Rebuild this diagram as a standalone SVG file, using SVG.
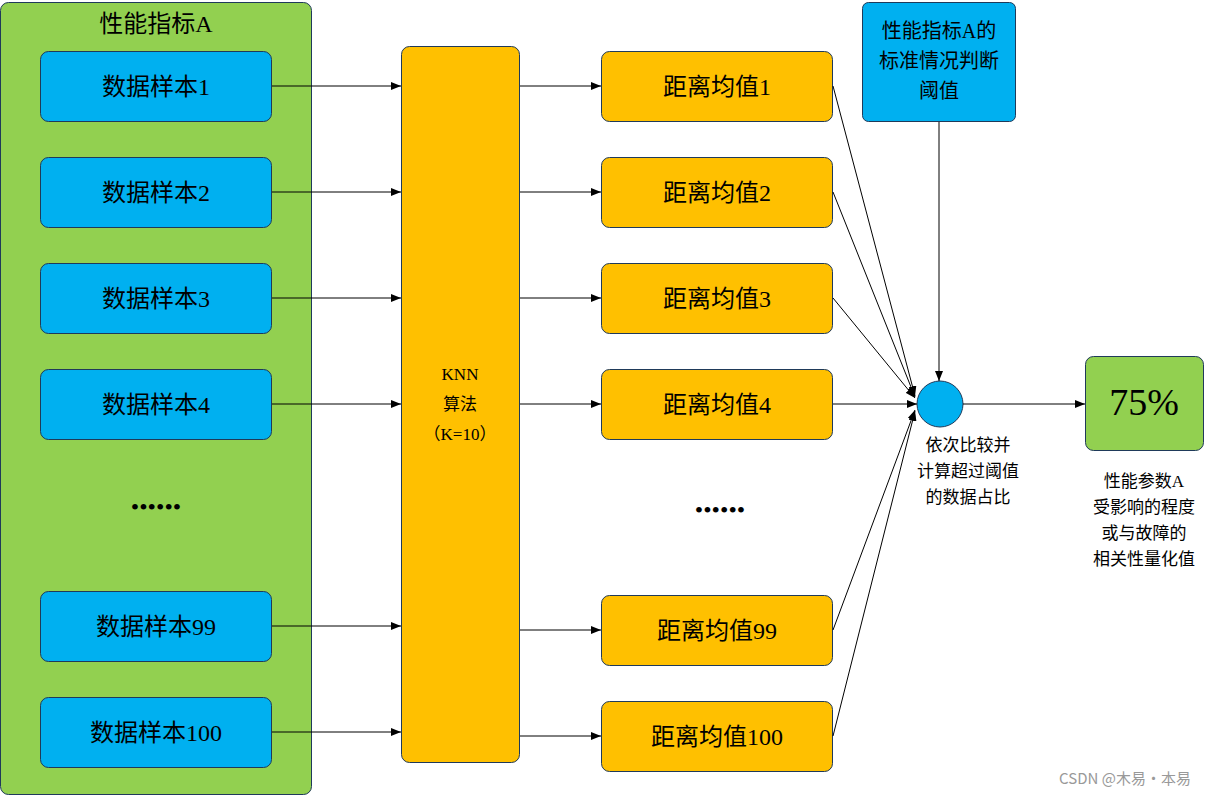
<svg xmlns="http://www.w3.org/2000/svg" width="1215" height="796" viewBox="0 0 1215 796">
<style>
text{font-family:"Liberation Serif","Noto Sans CJK SC",serif;fill:#000;text-anchor:middle}
.b{fill:#00b0f0;stroke:#1f3a5a;stroke-width:1}
.o{fill:#ffc000;stroke:#1f3a5a;stroke-width:1}
.g{fill:#92d050;stroke:#1f3a5a;stroke-width:1}
.t{font-size:24px}
.s{font-size:17px}
#c line{stroke:#000;stroke-width:1;marker-end:url(#a)}
</style>
<defs><marker id="a" markerWidth="10" markerHeight="8" refX="10" refY="4" orient="auto" markerUnits="userSpaceOnUse"><path d="M0,0L10,4L0,8z" fill="#000"/></marker></defs>
<rect width="1215" height="796" fill="#fff"/>
<g id="panel"><rect class="g" x="0.5" y="2.5" width="311" height="792" rx="8"/><text class="t" x="156" y="32">性能指标A</text></g>
<g id="s1"><rect class="b" x="40.5" y="51.5" width="231" height="70" rx="8"/><text class="t" x="156" y="95">数据样本1</text></g>
<g id="s2"><rect class="b" x="40.5" y="157.5" width="231" height="70" rx="8"/><text class="t" x="156" y="201">数据样本2</text></g>
<g id="s3"><rect class="b" x="40.5" y="263.5" width="231" height="70" rx="8"/><text class="t" x="156" y="307">数据样本3</text></g>
<g id="s4"><rect class="b" x="40.5" y="369.5" width="231" height="70" rx="8"/><text class="t" x="156" y="413">数据样本4</text></g>
<g id="sdots"><text class="t" x="156" y="515">••••••</text></g>
<g id="s99"><rect class="b" x="40.5" y="591.5" width="231" height="70" rx="8"/><text class="t" x="156" y="635">数据样本99</text></g>
<g id="s100"><rect class="b" x="40.5" y="697.5" width="231" height="70" rx="8"/><text class="t" x="156" y="741">数据样本100</text></g>
<g id="knn"><rect class="o" x="401.5" y="46.5" width="118" height="716" rx="8"/><text class="s" x="460" y="380">KNN</text><text class="s" x="460" y="410">算法</text><text class="s" x="460" y="440">（K=10）</text></g>
<g id="d1"><rect class="o" x="601.5" y="51.5" width="231" height="70" rx="8"/><text class="t" x="717" y="95">距离均值1</text></g>
<g id="d2"><rect class="o" x="601.5" y="157.5" width="231" height="70" rx="8"/><text class="t" x="717" y="201">距离均值2</text></g>
<g id="d3"><rect class="o" x="601.5" y="263.5" width="231" height="70" rx="8"/><text class="t" x="717" y="307">距离均值3</text></g>
<g id="d4"><rect class="o" x="601.5" y="369.5" width="231" height="70" rx="8"/><text class="t" x="717" y="413">距离均值4</text></g>
<g id="ddots"><text class="t" x="720" y="518">••••••</text></g>
<g id="d99"><rect class="o" x="601.5" y="595.5" width="231" height="70" rx="8"/><text class="t" x="717" y="639">距离均值99</text></g>
<g id="d100"><rect class="o" x="601.5" y="701.5" width="231" height="70" rx="8"/><text class="t" x="717" y="745">距离均值100</text></g>
<g id="th"><rect class="b" x="862.5" y="2.5" width="153" height="119" rx="6"/><text class="s" x="939" y="38" style="font-size:20px">性能指标A的</text><text class="s" x="939" y="68" style="font-size:20px">标准情况判断</text><text class="s" x="939" y="98" style="font-size:20px">阈值</text></g>
<g id="cmp"><circle class="b" cx="940" cy="404" r="23"/><text class="s" x="968" y="451">依次比较并</text><text class="s" x="968" y="477">计算超过阈值</text><text class="s" x="968" y="503">的数据占比</text></g>
<g id="res"><rect class="g" x="1085.5" y="356.5" width="118" height="94" rx="8"/><text x="1144" y="415" style="font-size:38px">75%</text><text class="s" x="1144" y="487">性能参数A</text><text class="s" x="1144" y="513">受影响的程度</text><text class="s" x="1144" y="539">或与故障的</text><text class="s" x="1144" y="565">相关性量化值</text></g>
<g id="c">
<line x1="272" y1="86" x2="401" y2="86"/><line x1="272" y1="192" x2="401" y2="192"/><line x1="272" y1="298" x2="401" y2="298"/><line x1="272" y1="404" x2="401" y2="404"/><line x1="272" y1="626" x2="401" y2="626"/><line x1="272" y1="732" x2="401" y2="732"/>
<line x1="520" y1="86" x2="601" y2="86"/><line x1="520" y1="192" x2="601" y2="192"/><line x1="520" y1="298" x2="601" y2="298"/><line x1="520" y1="404" x2="601" y2="404"/><line x1="520" y1="630" x2="601" y2="630"/><line x1="520" y1="736" x2="601" y2="736"/>
<line x1="833" y1="86" x2="915" y2="396"/><line x1="833" y1="192" x2="915" y2="397"/><line x1="833" y1="298" x2="915" y2="398"/><line x1="833" y1="404" x2="917" y2="404"/><line x1="833" y1="630" x2="915" y2="410"/><line x1="833" y1="736" x2="915" y2="411"/>
<line x1="939" y1="122" x2="939" y2="381"/><line x1="963" y1="404" x2="1085" y2="404"/>
</g>
<text x="1125" y="784" style="font-family:'Noto Sans CJK SC',sans-serif;font-size:15px;fill:#999">CSDN @木易·本易</text>
</svg>
